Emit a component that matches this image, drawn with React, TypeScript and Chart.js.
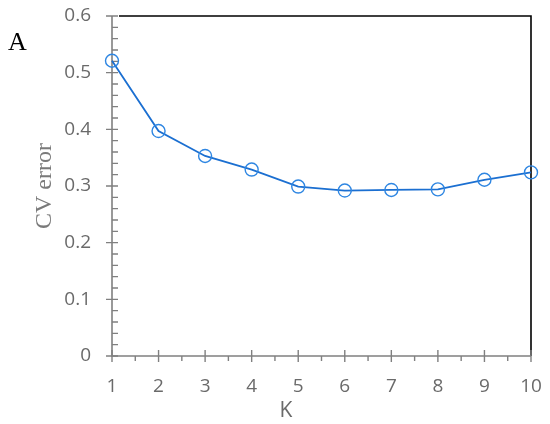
import React, { useEffect, useRef } from "react";
import { Chart, registerables } from "chart.js";

Chart.register(...registerables);

const kValues = [1, 2, 3, 4, 5, 6, 7, 8, 9, 10];
const cvError = [0.521, 0.397, 0.353, 0.329, 0.299, 0.292, 0.293, 0.294, 0.311, 0.324];
const yTicks = [0, 0.1, 0.2, 0.3, 0.4, 0.5, 0.6];
const panelLabel = "A";
const xTitle = "K";
const yTitle = "CV error";

const AXIS_GREY = "#808080";
const TEXT_GREY = "#6a6a6a";

const framePlugin = {
  id: "frame",
  beforeDatasetsDraw(chart: any) {
    const { ctx, chartArea } = chart;
    const { left, right, top, bottom } = chartArea;
    const xs = chart.scales.x;
    const ys = chart.scales.y;
    ctx.save();
    // black top and right border
    ctx.strokeStyle = "#000";
    ctx.lineWidth = 1.6;
    ctx.beginPath();
    ctx.moveTo(left + 7, top);
    ctx.lineTo(right, top);
    ctx.lineTo(right, bottom);
    ctx.stroke();
    // grey axes
    ctx.strokeStyle = AXIS_GREY;
    ctx.lineWidth = 1.6;
    ctx.beginPath();
    ctx.moveTo(left, top);
    ctx.lineTo(left, bottom);
    ctx.lineTo(right, bottom);
    ctx.stroke();
    ctx.lineWidth = 1.4;
    ctx.beginPath();
    // y major ticks
    for (const v of yTicks) {
      const y = ys.getPixelForValue(v);
      ctx.moveTo(left - 6, y);
      ctx.lineTo(left + 6, y);
    }
    // y minor ticks
    for (let i = 0; i < yTicks.length - 1; i++) {
      for (let j = 1; j < 5; j++) {
        const v = yTicks[i] + (yTicks[i + 1] - yTicks[i]) * (j / 5);
        const y = ys.getPixelForValue(v);
        ctx.moveTo(left, y);
        ctx.lineTo(left + 6, y);
      }
    }
    // x major ticks
    for (const k of kValues) {
      const x = xs.getPixelForValue(k);
      ctx.moveTo(x, bottom - 6);
      ctx.lineTo(x, bottom + 6);
    }
    // x minor ticks
    for (let i = 0; i < kValues.length - 1; i++) {
      const x = xs.getPixelForValue((kValues[i] + kValues[i + 1]) / 2);
      ctx.moveTo(x, bottom);
      ctx.lineTo(x, bottom + 5);
    }
    ctx.stroke();

    // texts
    ctx.fillStyle = "#000";
    ctx.font = "26px 'Liberation Serif'";
    ctx.textAlign = "left";
    ctx.textBaseline = "alphabetic";
    ctx.fillText(panelLabel, 8, 50);

    ctx.fillStyle = TEXT_GREY;
    ctx.font = "21px 'Open Sans'";
    ctx.textAlign = "center";
    ctx.fillText(xTitle, 286, 417);

    ctx.translate(51, (top + bottom) / 2);
    ctx.rotate(-Math.PI / 2);
    ctx.font = "24px 'Liberation Serif'";
    ctx.fillStyle = "#7a7a7a";
    ctx.textAlign = "center";
    ctx.fillText(yTitle, 0, 0);
    ctx.restore();
  },
};

export default function App() {
  const ref = useRef<HTMLCanvasElement>(null);
  useEffect(() => {
    if (!ref.current) return;
    const chart = new Chart(ref.current, {
      type: "line",
      data: {
        datasets: [
          {
            data: kValues.map((k, i) => ({ x: k, y: cvError[i] })),
            borderColor: "#1b6fd1",
            borderWidth: 1.8,
            pointRadius: 6.5,
            pointBorderWidth: 1.4,
            pointBorderColor: "#2e86e2",
            pointBackgroundColor: "rgba(0,0,0,0)",
            tension: 0,
            clip: false as any,
          },
        ],
      },
      options: {
        animation: false,
        responsive: false,
        plugins: { legend: { display: false }, tooltip: { enabled: false } },
        layout: { padding: { left: 0, top: 16, right: 19, bottom: 0 } },
        scales: {
          x: {
            type: "linear",
            min: 1,
            max: 10,
            grid: { display: false, drawTicks: false },
            border: { display: false },
            ticks: {
              stepSize: 1,
              color: TEXT_GREY,
              font: { family: "'Open Sans'", size: 19 },
              padding: 19,
              maxRotation: 0,
            },
            afterFit: (s: any) => {
              s.height = 68;
              s.paddingLeft = 0;
              s.paddingRight = 0;
            },
          },
          y: {
            min: 0,
            max: 0.6,
            grid: { display: false, drawTicks: false },
            border: { display: false },
            ticks: {
              stepSize: 0.1,
              color: TEXT_GREY,
              font: { family: "'Open Sans'", size: 19 },
              padding: 21,
              callback: (v: any) => (Number(v) === 0 ? "0" : Number(v).toFixed(1)),
            },
            afterFit: (s: any) => {
              s.width = 112;
              s.paddingTop = 0;
              s.paddingBottom = 0;
            },
          },
        },
      },
      plugins: [framePlugin],
    });
    return () => chart.destroy();
  }, []);
  return (
    <div style={{ position: "absolute", left: 0, top: 0, width: 550, height: 424, background: "#fff" }}>
      <canvas ref={ref} width={550} height={424} style={{ display: "block" }} />
    </div>
  );
}
